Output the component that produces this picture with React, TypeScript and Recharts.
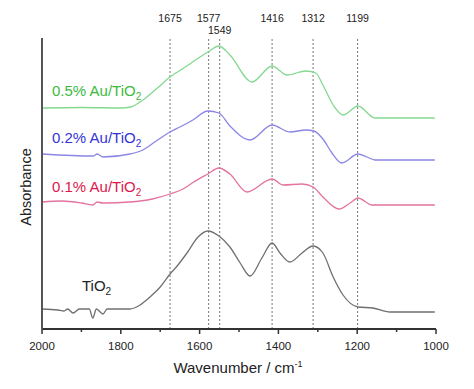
import { LineChart, Line, XAxis, YAxis, ReferenceLine } from 'recharts'

// wavenumber (cm-1) / absorbance (arbitrary, offset per trace)
const tio2 = [
  { w: 2000, a: 20 }, { w: 1960, a: 19 }, { w: 1944, a: 18 }, { w: 1935, a: 20 },
  { w: 1921, a: 16 }, { w: 1905, a: 20 }, { w: 1880, a: 20 }, { w: 1871, a: 11 },
  { w: 1862, a: 20 }, { w: 1845, a: 15 }, { w: 1835, a: 20 }, { w: 1777, a: 20 },
  { w: 1751, a: 24 }, { w: 1726, a: 32 }, { w: 1700, a: 42 }, { w: 1675, a: 55 },
  { w: 1657, a: 63 }, { w: 1632, a: 76 }, { w: 1604, a: 92 }, { w: 1579, a: 98 },
  { w: 1551, a: 93 }, { w: 1523, a: 82 }, { w: 1497, a: 66 }, { w: 1472, a: 53 },
  { w: 1442, a: 71 }, { w: 1416, a: 86 }, { w: 1396, a: 76 }, { w: 1371, a: 67 },
  { w: 1340, a: 76 }, { w: 1312, a: 83 }, { w: 1287, a: 76 }, { w: 1261, a: 52 },
  { w: 1236, a: 34 }, { w: 1198, a: 22 }, { w: 1160, a: 21 }, { w: 1117, a: 17 },
  { w: 1003, a: 17 },
]

const au01 = [
  { w: 2000, a: 127 }, { w: 1950, a: 128 }, { w: 1900, a: 126 }, { w: 1871, a: 124 },
  { w: 1860, a: 127 }, { w: 1845, a: 126 }, { w: 1777, a: 127 }, { w: 1720, a: 130 },
  { w: 1675, a: 135 }, { w: 1642, a: 140 }, { w: 1615, a: 147 }, { w: 1579, a: 155 },
  { w: 1551, a: 161 }, { w: 1523, a: 155 }, { w: 1480, a: 137 }, { w: 1416, a: 150 },
  { w: 1388, a: 144 }, { w: 1340, a: 145 }, { w: 1312, a: 142 }, { w: 1287, a: 132 },
  { w: 1246, a: 120 }, { w: 1218, a: 126 }, { w: 1198, a: 131 }, { w: 1162, a: 124 },
  { w: 1003, a: 124 },
]

const au02 = [
  { w: 2000, a: 175 }, { w: 1870, a: 173 }, { w: 1860, a: 175 }, { w: 1845, a: 172 },
  { w: 1777, a: 175 }, { w: 1744, a: 179 }, { w: 1710, a: 188 }, { w: 1675, a: 197 },
  { w: 1650, a: 202 }, { w: 1617, a: 209 }, { w: 1579, a: 218 }, { w: 1551, a: 216 },
  { w: 1523, a: 203 }, { w: 1472, a: 189 }, { w: 1416, a: 204 }, { w: 1371, a: 197 },
  { w: 1330, a: 199 }, { w: 1310, a: 198 }, { w: 1287, a: 190 }, { w: 1264, a: 176 },
  { w: 1239, a: 166 }, { w: 1198, a: 175 }, { w: 1175, a: 172 }, { w: 1155, a: 169 },
  { w: 1003, a: 169 },
]

const au05 = [
  { w: 2000, a: 221 }, { w: 1900, a: 221.5 }, { w: 1800, a: 221 }, { w: 1775, a: 222 },
  { w: 1744, a: 229 }, { w: 1710, a: 240 }, { w: 1675, a: 252 }, { w: 1640, a: 261 },
  { w: 1579, a: 277 }, { w: 1551, a: 283 }, { w: 1523, a: 274 }, { w: 1467, a: 247 },
  { w: 1416, a: 263 }, { w: 1378, a: 254 }, { w: 1330, a: 258 }, { w: 1305, a: 256 },
  { w: 1287, a: 244 }, { w: 1261, a: 224 }, { w: 1236, a: 214 }, { w: 1198, a: 223 },
  { w: 1155, a: 211 }, { w: 1003, a: 211 },
]

const bands = [1675, 1577, 1549, 1416, 1312, 1199]
const xTicks = [2000, 1900, 1800, 1700, 1600, 1500, 1400, 1300, 1200, 1100, 1000]

const font = 'Liberation Sans, Arial, sans-serif'

const WaveTick = (props: any) => {
  const { x, y, payload } = props
  const major = payload.value % 200 === 0
  return (
    <g>
      <line x1={x} y1={y} x2={x} y2={y + (major ? 5 : 3)} stroke="#333" strokeWidth={1.5} />
      {major && (
        <text x={x} y={y + 21} textAnchor="middle" fontSize={11.5} fill="#222" fontFamily={font}>
          {payload.value}
        </text>
      )}
    </g>
  )
}

export default function App() {
  return (
    <div style={{ position: 'absolute', left: 0, top: 0, width: 474, height: 389, background: '#fff' }}>
      <LineChart width={474} height={389} margin={{ top: 38, right: 38, left: 32, bottom: 30 }}>
        <XAxis
          type="number"
          dataKey="w"
          domain={[1000, 2000]}
          reversed
          ticks={xTicks}
          interval={0}
          height={30}
          tickSize={0}
          tickMargin={0}
          tickLine={false}
          tick={<WaveTick />}
          axisLine={{ stroke: '#333', strokeWidth: 2 }}
        />
        <YAxis
          type="number"
          domain={[0, 291]}
          width={10}
          tick={false}
          tickLine={false}
          axisLine={{ stroke: '#555', strokeWidth: 2 }}
        />
        {bands.map((b) => (
          <ReferenceLine
            key={b}
            x={b}
            stroke="#777"
            strokeDasharray="2 2"
            label={{
              value: String(b),
              position: 'top',
              offset: b === 1549 ? 4 : 16,
              fontSize: 10.5,
              fill: '#222',
              fontFamily: font,
            }}
          />
        ))}
        <Line data={tio2} dataKey="a" type="monotone" stroke="#707070" strokeWidth={1.3} dot={false} isAnimationActive={false} />
        <Line data={au01} dataKey="a" type="monotone" stroke="#e4739f" strokeWidth={1.3} dot={false} isAnimationActive={false} />
        <Line data={au02} dataKey="a" type="monotone" stroke="#8b86e6" strokeWidth={1.3} dot={false} isAnimationActive={false} />
        <Line data={au05} dataKey="a" type="monotone" stroke="#84d990" strokeWidth={1.3} dot={false} isAnimationActive={false} />
      </LineChart>
      <svg width={474} height={389} style={{ position: 'absolute', left: 0, top: 0, pointerEvents: 'none' }}>
        <g fontFamily={font} fontSize={15}>
          <text x={52} y={96} fill="#3dba3d">0.5% Au/TiO<tspan fontSize={10} dy={4}>2</tspan></text>
          <text x={52} y={143} fill="#3434d8">0.2% Au/TiO<tspan fontSize={10} dy={4}>2</tspan></text>
          <text x={52} y={192} fill="#e0174d">0.1% Au/TiO<tspan fontSize={10} dy={4}>2</tspan></text>
          <text x={82} y={291} fill="#222">TiO<tspan fontSize={10} dy={4}>2</tspan></text>
        </g>
        <text x={238} y={373} textAnchor="middle" fontFamily={font} fontSize={15} fill="#222">
          Wavenumber / cm<tspan fontSize={9} dy={-6}>-1</tspan>
        </text>
        <text x={31} y={187} textAnchor="middle" fontFamily={font} fontSize={14.5} fill="#222" transform="rotate(-90 31 187)">
          Absorbance
        </text>
      </svg>
    </div>
  )
}
